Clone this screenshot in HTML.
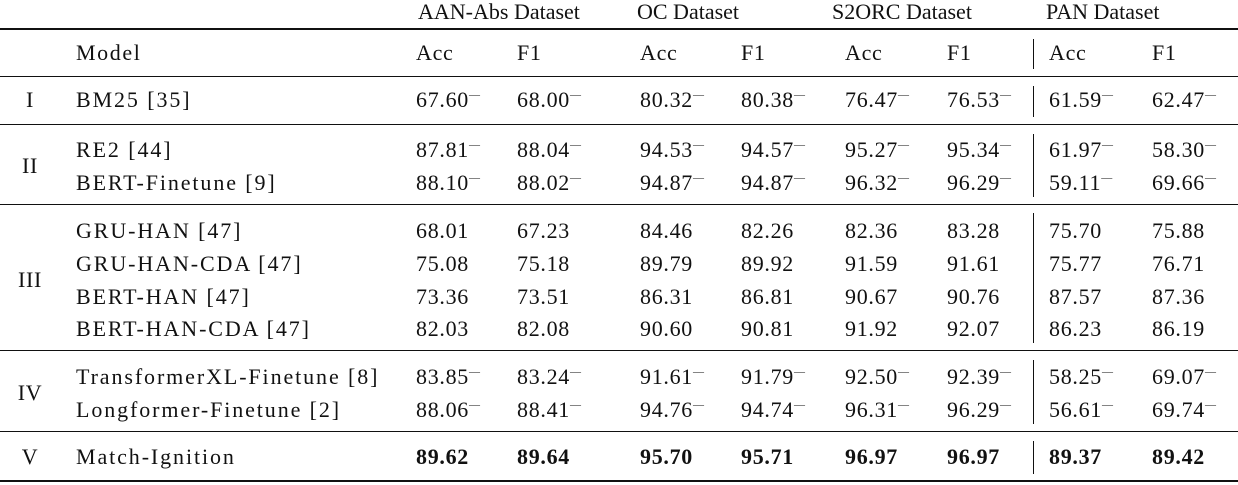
<!DOCTYPE html>
<html><head><meta charset="utf-8"><style>
body{margin:0;background:#fff;width:1238px;height:485px;position:relative;overflow:hidden;font-family:"Liberation Serif","DejaVu Serif",serif;font-size:22px;letter-spacing:0.7px;color:#111}
.t{position:absolute;white-space:nowrap;line-height:24px;transform:translateY(-12px)}
.h{position:absolute;left:0;width:1238px;background:#111}
.v{position:absolute;left:1033px;width:1.3px;background:#111}
sup{font-size:11px;vertical-align:9px;line-height:0;letter-spacing:0}
b{font-weight:bold}
</style></head><body>
<div class="h" style="top:28px;height:2.2px"></div>
<div class="h" style="top:76px;height:1.3px"></div>
<div class="h" style="top:124px;height:1.3px"></div>
<div class="h" style="top:204px;height:1.3px"></div>
<div class="h" style="top:350px;height:1.3px"></div>
<div class="h" style="top:431px;height:1.3px"></div>
<div class="h" style="top:480px;height:2.2px"></div>
<div class="v" style="top:39px;height:30px"></div>
<div class="v" style="top:86px;height:31px"></div>
<div class="v" style="top:134px;height:63px"></div>
<div class="v" style="top:213px;height:130px"></div>
<div class="v" style="top:360px;height:64px"></div>
<div class="v" style="top:441px;height:33px"></div>
<div id="c"></div>
<script>
var X=[416,517,640,741,845,947,1049,1152];
var out='';
function t(x,y,s){out+='<div class="t" style="left:'+x+'px;top:'+y+'px">'+s+'</div>';}
function hd(x,s){out+='<div class="t" style="left:'+x+'px;top:12px;letter-spacing:0">'+s+'</div>';}
hd(418,'AAN-Abs Dataset');hd(637,'OC Dataset');hd(832,'S2ORC Dataset');hd(1046,'PAN Dataset');
t(76,53,'<span style="letter-spacing:1.6px">Model</span>');
['Acc','F1','Acc','F1','Acc','F1','Acc','F1'].forEach(function(s,i){t(X[i],53,s)});
var m='<sup>—</sup>';
var rows=[
[100,'BM25 [35]',['67.60','68.00','80.32','80.38','76.47','76.53','61.59','62.47'],1],
[150,'RE2 [44]',['87.81','88.04','94.53','94.57','95.27','95.34','61.97','58.30'],1],
[183,'BERT-Finetune [9]',['88.10','88.02','94.87','94.87','96.32','96.29','59.11','69.66'],1],
[231,'GRU-HAN [47]',['68.01','67.23','84.46','82.26','82.36','83.28','75.70','75.88'],0],
[264,'GRU-HAN-CDA [47]',['75.08','75.18','89.79','89.92','91.59','91.61','75.77','76.71'],0],
[297,'BERT-HAN [47]',['73.36','73.51','86.31','86.81','90.67','90.76','87.57','87.36'],0],
[329,'BERT-HAN-CDA [47]',['82.03','82.08','90.60','90.81','91.92','92.07','86.23','86.19'],0],
[377,'TransformerXL-Finetune [8]',['83.85','83.24','91.61','91.79','92.50','92.39','58.25','69.07'],1],
[410,'Longformer-Finetune [2]',['88.06','88.41','94.76','94.74','96.31','96.29','56.61','69.74'],1],
[457,'Match-Ignition',['89.62','89.64','95.70','95.71','96.97','96.97','89.37','89.42'],2]];
rows.forEach(function(r){t(76,r[0],'<span style="letter-spacing:1.9px">'+r[1]+'</span>');r[2].forEach(function(v,i){t(X[i],r[0],r[3]==1?v+m:(r[3]==2?'<b>'+v+'</b>':v))})});
[[100,'I'],[166,'II'],[280,'III'],[393,'IV'],[457,'V']].forEach(function(r){out+='<div class="t" style="left:0;width:60px;text-align:center;top:'+r[0]+'px">'+r[1]+'</div>'});
document.getElementById('c').innerHTML=out;
</script>
</body></html>
